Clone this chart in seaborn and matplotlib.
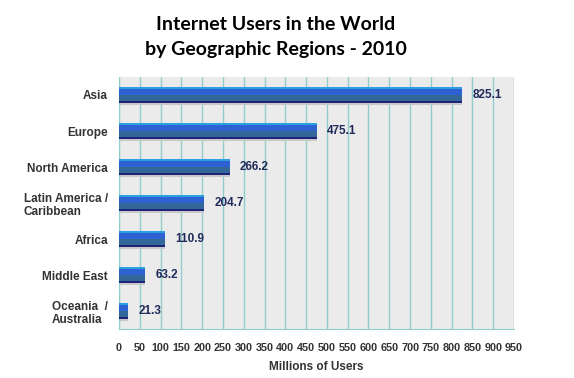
import numpy as np
import pandas as pd
import matplotlib
matplotlib.use('Agg')
import matplotlib.pyplot as plt
import seaborn as sns

# data
regions = ['Asia', 'Europe', 'North America', 'Latin America /\nCaribbean',
           'Africa', 'Middle East', 'Oceania  /\nAustralia']
users = [825.1, 475.1, 266.2, 204.7, 110.9, 63.2, 21.3]
xticks = list(range(0, 951, 50))

df = pd.DataFrame({'Region': regions, 'Users': users})

sns.set_style('white')
plt.rcParams['font.family'] = ['Liberation Sans', 'DejaVu Sans']
teal = '#8ecfcc'

fig = plt.figure(figsize=(5.74, 3.78), dpi=100)
ax = fig.add_axes([0.2073, 0.1296, 0.6882, 0.6667])
ax.set_facecolor('#ebebeb')

pos = np.arange(len(regions))
h = 0.42
# shadow under each bar
ax.barh(pos + 0.07, df['Users'], height=h, color='#c9c9c9', linewidth=0, zorder=2)
# main bar
sns.barplot(data=df, x='Users', y='Region', orient='h', color='#336699',
            saturation=1, width=h, linewidth=0, ax=ax, zorder=3)
# blue upper band and light top edge
ax.barh(pos - 0.10, df['Users'], height=0.18, color='#2e62d2', linewidth=0, zorder=4)
ax.barh(pos - 0.195, df['Users'], height=0.05, color='#2ba0e0', linewidth=0, zorder=5)
# dark bottom edge
ax.barh(pos + 0.185, df['Users'], height=0.05, color='#1f237a', linewidth=0, zorder=5)

for p, v in zip(pos, users):
    ax.text(v + 25, p, f'{v:.1f}', va='center', ha='left', fontsize=8.5,
            fontweight='bold', color='#1f2a5a', zorder=6)

ax.set_xlim(0, 950)
ax.set_ylim(len(regions) - 0.5, -0.5)
ax.set_xticks(xticks)
ax.set_xticklabels([str(t) for t in xticks], fontsize=7.8, fontweight='bold',
                   color='#333333')
ax.set_yticks(pos)
ax.set_yticklabels(regions, fontsize=8.5, fontweight='bold', color='#333333',
                   ha='right', multialignment='left')
ax.set_yticks(np.arange(len(regions) + 1) - 0.5, minor=True)
ax.tick_params(axis='y', which='major', length=0, pad=8)
ax.tick_params(axis='y', which='minor', length=5, color=teal, direction='out')
ax.tick_params(axis='x', length=5, color=teal, direction='out', pad=5)

ax.grid(axis='x', color=teal, linewidth=1, zorder=1)
ax.set_axisbelow(True)
for s in ['top', 'right']:
    ax.spines[s].set_visible(False)
for s in ['left', 'bottom']:
    ax.spines[s].set_color(teal)

ax.set_ylabel('')
ax.set_xlabel('Millions of Users', fontsize=8.5, fontweight='bold',
              color='#333333', labelpad=6)

title_font = ['Lato', 'DejaVu Sans']
fig.text(0.481, 0.934, 'Internet Users in the World', ha='center', va='center',
         fontsize=14, fontweight='bold', color='black', family=title_font)
fig.text(0.481, 0.870, 'by Geographic Regions - 2010', ha='center', va='center',
         fontsize=14, fontweight='bold', color='black', family=title_font)

fig.savefig('out.png', dpi=100)
